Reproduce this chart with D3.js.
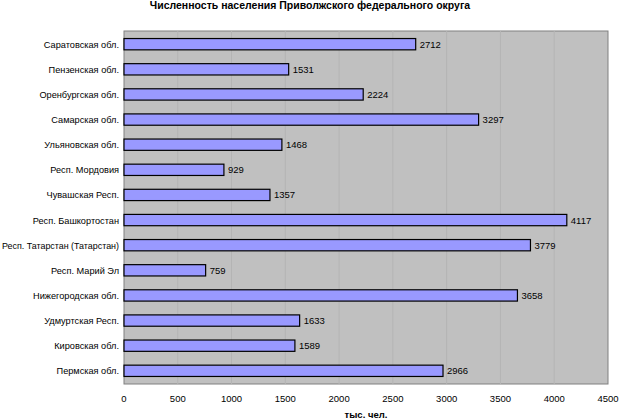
<!DOCTYPE html><html><head><meta charset="utf-8"><script src="https://cdn.jsdelivr.net/npm/d3@7"></script>
<style>body{margin:0;background:#fff}text{font-family:"Liberation Sans",Arial,sans-serif}</style></head><body><svg id="c" width="619" height="420"></svg><script>
const categories=["Саратовская обл.","Пензенская обл.","Оренбургская обл.","Самарская обл.","Ульяновская обл.","Респ. Мордовия","Чувашская Респ.","Респ. Башкортостан","Респ. Татарстан (Татарстан)","Респ. Марий Эл","Нижегородская обл.","Удмуртская Респ.","Кировская обл.","Пермская обл."];
const values=[2712,1531,2224,3297,1468,929,1357,4117,3779,759,3658,1633,1589,2966];
const ticks=[0,500,1000,1500,2000,2500,3000,3500,4000,4500];
const svg=d3.select("#c");
const L=124,R=608,T=31,B=384;
const x=d3.scaleLinear().domain([0,4500]).range([L,R]);
const y=d3.scaleBand().domain(categories).range([T,B]).paddingInner(0.55).paddingOuter(0.3);
svg.append("rect").attr("x",L).attr("y",T).attr("width",R-L).attr("height",B-T).attr("fill","#c0c0c0").attr("stroke","#808080");
svg.append("g").selectAll("line").data(ticks.slice(1,-1)).join("line").attr("x1",d=>x(d)).attr("x2",d=>x(d)).attr("y1",T).attr("y2",B).attr("stroke","#b4b4b4");
svg.append("text").attr("x",310).attr("y",9).attr("text-anchor","middle").attr("font-size",10.5).attr("font-weight","bold").text("Численность населения Приволжского федерального округа");
svg.append("g").selectAll("rect").data(values).join("rect").attr("x",x(0)).attr("y",(d,i)=>y(categories[i])).attr("width",d=>x(d)-x(0)).attr("height",y.bandwidth()).attr("fill","#9999ff").attr("stroke","#000").attr("stroke-width",1.2);
svg.append("g").selectAll("text").data(values).join("text").attr("x",d=>x(d)+4).attr("y",(d,i)=>y(categories[i])+y.bandwidth()/2+3.5).attr("font-size",9.5).text(d=>d);
svg.append("g").selectAll("text").data(categories).join("text").attr("x",L-5).attr("y",d=>y(d)+y.bandwidth()/2+3.5).attr("text-anchor","end").attr("font-size",9.2).attr("textLength",d=>d.length>20?117:null).attr("lengthAdjust","spacingAndGlyphs").text(d=>d);
svg.append("g").selectAll("text").data(ticks).join("text").attr("x",d=>x(d)).attr("y",402).attr("text-anchor","middle").attr("font-size",9.5).text(d=>d);
svg.append("text").attr("x",366).attr("y",418).attr("text-anchor","middle").attr("font-size",9.5).attr("font-weight","bold").text("тыс. чел.");
</script></body></html>
